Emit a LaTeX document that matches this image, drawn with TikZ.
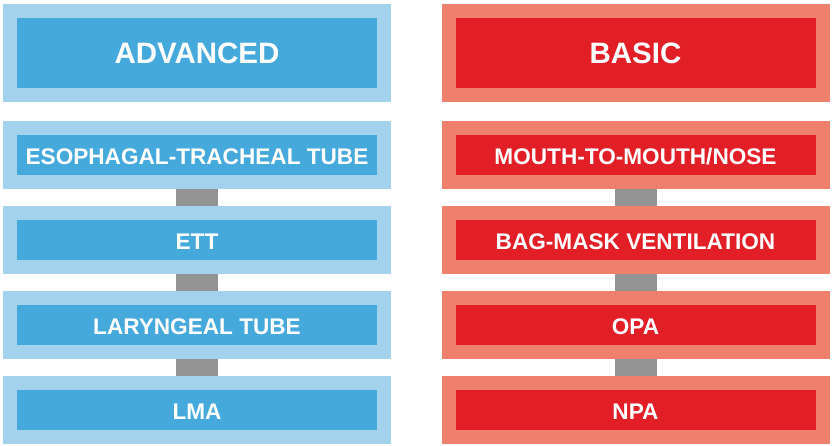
\documentclass[tikz,border=0pt]{standalone}
\usepackage{fontspec}
\setmainfont{Liberation Sans}
\definecolor{bluelight}{HTML}{A3D3EC}
\definecolor{bluedark}{HTML}{45A9DC}
\definecolor{redlight}{HTML}{F0806E}
\definecolor{reddark}{HTML}{E21E26}
\definecolor{linkgray}{HTML}{939393}
\begin{document}
\begin{tikzpicture}[x=1pt,y=-1pt,
  box/.style={rectangle, line width=14pt, inner sep=0pt, minimum width=374pt, text=white, text depth=0pt},
  head/.style={box, minimum height=84pt, text height=21pt, font=\bfseries\fontsize{29.5}{32}\selectfont},
  item/.style={box, minimum height=54pt, text height=19.3pt, font=\bfseries\fontsize{22.6}{24}\selectfont},
  adv/.style={draw=bluelight, fill=bluedark},
  bas/.style={draw=redlight, fill=reddark},
  link/.style={draw=linkgray, line width=42pt}]
\useasboundingbox (0,0) rectangle (832,445);
\node[head,adv] (A0) at (197,53) {ADVANCED};
\node[item,adv] (A1) at (197,155) {ESOPHAGAL-TRACHEAL TUBE};
\node[item,adv] (A2) at (197,240) {ETT};
\node[item,adv] (A3) at (197,325) {LARYNGEAL TUBE};
\node[item,adv] (A4) at (197,410) {LMA};
\node[head,bas] (B0) at (635.5,53) {BASIC};
\node[item,bas] (B1) at (635.5,155) {MOUTH-TO-MOUTH/NOSE};
\node[item,bas] (B2) at (635.5,240) {BAG-MASK VENTILATION};
\node[item,bas] (B3) at (635.5,325) {OPA};
\node[item,bas] (B4) at (635.5,410) {NPA};
\draw[link] (A1.south) -- (A2.north);
\draw[link] (A2.south) -- (A3.north);
\draw[link] (A3.south) -- (A4.north);
\draw[link] (B1.south) -- (B2.north);
\draw[link] (B2.south) -- (B3.north);
\draw[link] (B3.south) -- (B4.north);
\end{tikzpicture}
\end{document}
